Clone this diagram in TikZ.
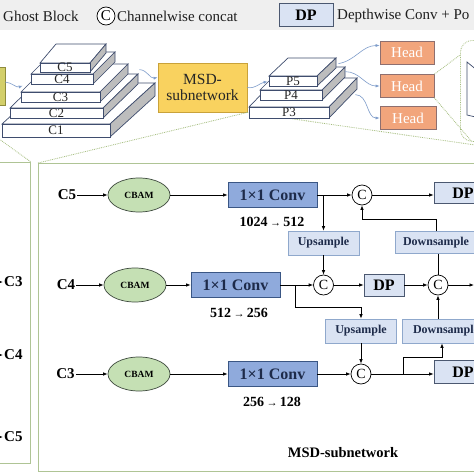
\documentclass[tikz,border=0pt]{standalone}
\usepackage{fontspec}
\setmainfont{Liberation Serif}
\usetikzlibrary{calc,arrows.meta,shapes.geometric}
\definecolor{legendgray}{HTML}{EFEFEF}
\definecolor{slabblue}{HTML}{3F4D6E}
\definecolor{slabgray}{HTML}{BDBDBD}
\definecolor{flowblue}{HTML}{7F9DCB}
\definecolor{zoomgreen}{HTML}{A3BC7C}
\definecolor{panelgreen}{HTML}{AFC495}
\definecolor{headfill}{HTML}{F2A57C}
\definecolor{headdraw}{HTML}{8E6F6F}
\definecolor{msdfill}{HTML}{F9D25F}
\definecolor{msddraw}{HTML}{C9A23A}
\definecolor{yboxfill}{HTML}{D3CF6A}
\definecolor{yboxdraw}{HTML}{8F8C3C}
\definecolor{convfill}{HTML}{8FAADC}
\definecolor{convdraw}{HTML}{3A5684}
\definecolor{convtext}{HTML}{1E2B4A}
\definecolor{dpfill}{HTML}{DAE3F3}
\definecolor{dpdraw}{HTML}{4B5870}
\definecolor{sampledraw}{HTML}{8FA8CC}
\definecolor{cbamfill}{HTML}{C5E0B4}
\definecolor{cbamdraw}{HTML}{3E4A3E}
\newcommand{\fsz}[1]{\fontsize{#1}{#1}\selectfont}
% slab: x1 y1 x2 y2 (front face), dx dy (depth), label, name
\newcommand{\slab}[8]{
	\filldraw[slabline,fill=white] (#1,#2) -- ++(#5,-#6) -- (#3+#5,#2-#6) -- (#3,#2) -- cycle;
	\filldraw[slabline,fill=slabgray] (#3,#2) -- (#3+#5,#2-#6) -- (#3+#5,#4-#6) -- (#3,#4) -- cycle;
	\node[slabfront,minimum width=#3-#1,minimum height=#4-#2] (#8) at ({(#1+#3)/2},{(#2+#4)/2}) {#7};}

\begin{document}
\begin{tikzpicture}[x=1pt,y=-1pt,
	slabline/.style={draw=slabblue,line width=0.7pt},
	slabfront/.style={slabline,fill=white,inner sep=0pt,text=black!85,font=\fsz{13}},
	bendflow/.style={draw=flowblue,line width=0.6pt,-{Latex[length=4pt,width=3pt]}},
	zoomline/.style={draw=zoomgreen,densely dotted,line width=0.8pt},
	panel/.style={draw=panelgreen,line width=0.9pt,inner sep=0pt},
	headbox/.style={draw=headdraw,fill=headfill,line width=0.7pt,text=white,minimum width=54,minimum height=23,inner sep=0pt,font=\fsz{15}},
	catnode/.style={circle,draw=black,fill=white,line width=0.7pt,minimum size=20,inner sep=0pt,font=\fsz{14}},
	convbox/.style={draw=convdraw,fill=convfill,line width=0.8pt,minimum width=89,minimum height=25,inner sep=0pt,text=convtext,font=\bfseries\fsz{16}},
	dpbox/.style={draw=dpdraw,fill=dpfill,line width=0.8pt,minimum height=22,inner sep=0pt,font=\bfseries\fsz{16}},
	samplebox/.style={draw=sampledraw,fill=dpfill,line width=0.7pt,minimum height=24,inner sep=0pt,text=convtext,font=\bfseries\fsz{12}},
	cbam/.style={ellipse,draw=cbamdraw,fill=cbamfill,line width=0.7pt,minimum width=62,minimum height=34,inner sep=0pt,font=\bfseries\fsz{9.5}},
	arrow/.style={-{Latex[length=4.5pt,width=3.5pt]},line width=0.75pt},
	inlabel/.style={font=\bfseries\fsz{15},inner sep=1pt},
	dimlabel/.style={font=\bfseries\fsz{14},inner sep=0pt}]
	\useasboundingbox (0,0) rectangle (474,474);
	\clip (0,0) rectangle (474,474);
	\fill[white] (0,0) rectangle (474,474);
	%LEGEND
	\fill[legendgray] (0,0) rectangle (474,30);
	\node[anchor=west,inner sep=0pt,text=black!88,font=\fsz{15}] (ghost) at (3,16) {Ghost Block};
	\node[catnode,minimum size=18,font=\fsz{15}] (catkey) at (106,16) {C};
	\node[anchor=west,inner sep=0pt,text=black!88,font=\fsz{15}] (catkeytext) at (117,16) {Channelwise concat};
	\node[dpbox,minimum width=54,minimum height=23] (dpkey) at (306,15) {DP};
	\node[anchor=west,inner sep=0pt,text=black!88,font=\fsz{15}] (dpkeytext) at (337,16) {Depthwise Conv + Po};
	%PANELS AND ZOOM LINES
	\node[panel,anchor=north west,minimum width=562,minimum height=308] (mainpanel) at (38,163) {};
	\node[panel,anchor=north east,minimum width=80,minimum height=301] (leftpanel) at (31,162) {};
	\node[draw=msddraw,fill=msdfill,line width=0.8pt,minimum width=89,minimum height=49,inner sep=0pt,align=center,text=black!85,font=\fsz{15.5}] (msd) at (202.5,87.5) {MSD-\\subnetwork};
	\coordinate (backsrc) at (-30,118);
	\draw[zoomline] (backsrc) -- (leftpanel.north east);
	\draw[zoomline] (mainpanel.north west) -- (msd.south east);
	\draw[zoomline] (msd.south east) -- (mainpanel.north east);
	\node[draw=yboxdraw,fill=yboxfill,minimum width=10,minimum height=38,inner sep=0pt] (backbone) at (0,86) {};
	%BACKBONE PYRAMID
	\slab{2}{124}{110}{137}{45}{41}{C1}{c1}
	\slab{10}{108}{103}{118}{35}{34}{C2}{c2}
	\slab{21}{92}{100}{102}{28}{28}{C3}{c3}
	\slab{31}{74}{93}{84}{22}{22}{C4}{c4}
	\slab{40}{63}{90}{72}{16}{19}{C5}{c5}
	%NECK PYRAMID
	\slab{249}{107}{329}{118}{28}{29}{P3}{p3}
	\slab{260}{90}{322}{100}{23}{23}{P4}{p4}
	\slab{269}{76}{317}{86}{19}{18}{P5}{p5}
	%HEADS
	\node[headbox] (head1) at (407,52.5) {Head};
	\node[headbox] (head2) at (407,86) {Head};
	\node[headbox,minimum width=56] (head3) at (408,118) {Head};
	\node[zoomline,rounded corners=12,anchor=north west,minimum width=60,minimum height=101] (callout) at (460,40) {};
	\draw[zoomline] (head2.north east) -- ([yshift=-15pt]callout.north west);
	\draw[zoomline] (head2.south east) -- ([xshift=12pt]callout.south west);
	\draw[slabline,fill=white] (484,76) -- (467,62) -- (467,115) -- (484,119);
	%CURVED FLOWS
	\draw[bendflow] ([yshift=4pt]backbone.east) to[out=-5,in=200] ([shift={(2,-6)}]c3.north west);
	\draw[bendflow] ([shift={(36,-38)}]c2.north east) to[out=0,in=190] ([yshift=10pt]msd.west);
	\draw[bendflow] (msd.east) to[out=-10,in=190] ([shift={(8,-8)}]p4.north west);
	\draw[bendflow] ([shift={(21,-12)}]p5.north east) to[out=10,in=180] ([yshift=7pt]head1.west);
	\draw[bendflow] ([shift={(23,-18)}]p4.north east) to[out=0,in=180] (head2.west);
	\draw[bendflow] ([shift={(26,-12)}]p3.north east) to[out=0,in=180] (head3.west);
	%LEFT PANEL
	\foreach \lab/\ypos in {C3/282,C4/355,C5/437}{
		\coordinate (leftsrc\lab) at (-20,\ypos);
		\node[inlabel,anchor=west] (left\lab) at (3,\ypos) {\lab};
		\draw[arrow] (leftsrc\lab) -- (left\lab.west);
	}
	%MSD-SUBNETWORK
	\node[inlabel] (inC5) at (67,195) {C5};
	\node[cbam] (cbam1) at (139,195) {CBAM};
	\node[convbox] (conv1) at (272.5,195) {1×1 Conv};
	\node[dimlabel] (dim1) at (272,222) {1024\,{\fsz{11}→}\,512};
	\node[catnode] (cat1) at (362,195) {C};
	\node[samplebox,minimum width=71] (up1) at (323.5,243) {Upsample};
	\node[dpbox,minimum width=58,minimum height=21] (dp1) at (463,193) {DP};
	\node[samplebox,minimum width=82,minimum height=22] (down1) at (436,242.5) {Downsample};
	\node[inlabel] (inC4) at (66,285) {C4};
	\node[cbam] (cbam2) at (135,285) {CBAM};
	\node[convbox] (conv2) at (235.5,285) {1×1 Conv};
	\node[dimlabel] (dim2) at (239,313) {512\,{\fsz{11}→}\,256};
	\node[catnode] (cat2) at (323.5,285) {C};
	\node[dpbox,minimum width=40] (dp2) at (384,285) {DP};
	\node[catnode] (cat3) at (438,285) {C};
	\node[samplebox,minimum width=71] (up2) at (361,331) {Upsample};
	\node[samplebox,minimum width=88] (down2) at (446,331) {Downsample};
	\node[inlabel] (inC3) at (65.5,374) {C3};
	\node[cbam] (cbam3) at (139,374) {CBAM};
	\node[convbox] (conv3) at (272.5,374) {1×1 Conv};
	\node[dimlabel] (dim3) at (272,402) {256\,{\fsz{11}→}\,128};
	\node[catnode] (cat4) at (361,374) {C};
	\node[dpbox,minimum width=58,minimum height=23] (dp3) at (463,372) {DP};
	\node[font=\bfseries\fsz{14.5}] (title) at (343,453) {MSD-subnetwork};
	%ROW C5
	\draw[arrow] (inC5) -- (cbam1);
	\draw[arrow] (cbam1) -- (conv1);
	\draw[arrow] (conv1) -- (cat1);
	\draw[arrow] (up1 |- conv1.east) -- (up1.north);
	\draw[arrow] (up1) -- (cat2);
	\draw[arrow] (cat1) -- (cat1 -| dp1.west);
	\draw[arrow] (down1.north) -- ++(0,-12) -| (cat1.south);
	%ROW C4
	\draw[arrow] (inC4) -- (cbam2);
	\draw[arrow] (cbam2) -- (conv2);
	\draw[arrow] (conv2) -- (cat2);
	\draw[arrow] ($(conv2.east)+(15,0)$) -- ++(0,22) -| (up2.north);
	\draw[arrow] (cat2) -- (dp2);
	\draw[arrow] (dp2) -- (cat3);
	\draw[line width=0.75pt] (cat3.north) -- (cat3.north |- down1.south);
	\draw[arrow] (cat3.south |- down2.north) -- (cat3.south);
	\coordinate (out4) at (474,285);
	\draw[arrow] (cat3) -- (out4);
	%ROW C3
	\draw[arrow] (inC3) -- (cbam3);
	\draw[arrow] (cbam3) -- (conv3);
	\draw[arrow] (conv3) -- (cat4);
	\draw[arrow] (up2) -- (cat4);
	\draw[arrow] (cat4) -- (cat4 -| dp3.west);
	\draw[arrow] ($(cat4.east)+(32,0)$) -- ++(0,-17) -| ($(down2.south)+(-4,0)$);
\end{tikzpicture}
\end{document}
